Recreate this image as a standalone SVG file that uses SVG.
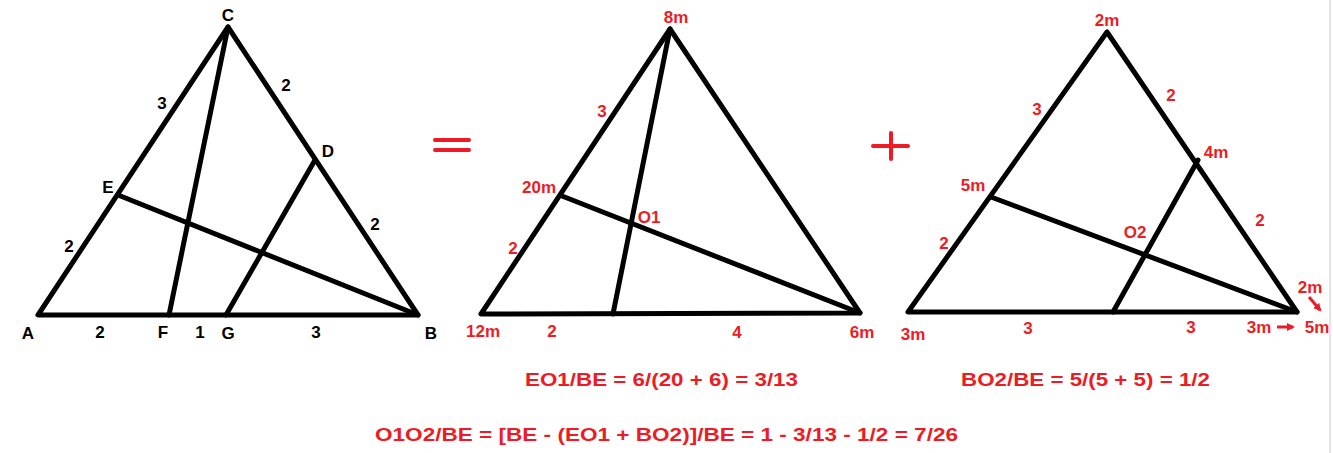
<svg xmlns="http://www.w3.org/2000/svg" width="1333" height="453" viewBox="0 0 1333 453">
<defs>
<style>
.ln{stroke:#000;stroke-width:5;stroke-linecap:round;stroke-linejoin:round;fill:none}
.r{stroke:#ED1C24;stroke-width:4;stroke-linecap:round;fill:none}
.ra{stroke:#ED1C24;stroke-width:3;fill:none}
text{font-family:"Liberation Sans","DejaVu Sans",sans-serif;font-weight:bold;font-size:17px;text-anchor:middle}
.k{fill:#000}
.t{fill:#ED1C24}
.eq{font-size:18px;text-anchor:start}
</style>
<marker id="ah" markerWidth="8" markerHeight="8" refX="6" refY="4" orient="auto" markerUnits="userSpaceOnUse">
<path d="M0,0 L8,4 L0,8 Z" fill="#ED1C24"/>
</marker>
</defs>
<rect width="1333" height="453" fill="#fff"/>
<line x1="1330" y1="0" x2="1330" y2="453" stroke="#c8c8c8" stroke-width="1"/>

<g id="triangle1">
<path class="ln" d="M38,315 L418,315 L228,27 Z"/>
<g id="t1-connectors">
<line class="ln" x1="228" y1="27" x2="169" y2="315"/>
<line class="ln" x1="315" y1="160" x2="226" y2="315"/>
<line class="ln" x1="118" y1="195" x2="418" y2="315"/>
</g>
<text class="k" x="228" y="21">C</text>
<text class="k" x="162" y="109">3</text>
<text class="k" x="286" y="91">2</text>
<text class="k" x="328" y="157">D</text>
<text class="k" x="108" y="193">E</text>
<text class="k" x="69" y="252">2</text>
<text class="k" x="375" y="230">2</text>
<text class="k" x="28" y="339">A</text>
<text class="k" x="100" y="338">2</text>
<text class="k" x="163" y="338">F</text>
<text class="k" x="200" y="338">1</text>
<text class="k" x="228" y="339">G</text>
<text class="k" x="316" y="338">3</text>
<text class="k" x="431" y="339">B</text>
</g>

<g id="equals">
<line class="r" x1="435" y1="140" x2="469" y2="140"/>
<line class="r" x1="435" y1="150" x2="469" y2="150"/>
</g>

<g id="triangle2">
<path class="ln" d="M481,314 L860,313 L670,29 Z"/>
<g id="t2-connectors">
<line class="ln" x1="670" y1="29" x2="613" y2="314"/>
<line class="ln" x1="562" y1="196" x2="860" y2="313"/>
</g>
<text class="t" x="676" y="23">8m</text>
<text class="t" x="602" y="117">3</text>
<text class="t" x="539" y="193">20m</text>
<text class="t" x="649" y="223">O1</text>
<text class="t" x="513" y="254">2</text>
<text class="t" x="483" y="337">12m</text>
<text class="t" x="552" y="337">2</text>
<text class="t" x="737" y="338">4</text>
<text class="t" x="862" y="338">6m</text>
</g>

<g id="plus">
<line class="r" x1="873" y1="146" x2="908" y2="146"/>
<line class="r" x1="891" y1="133" x2="891" y2="159"/>
</g>

<g id="triangle3">
<path class="ln" d="M908,312 L1297,312 L1107,32 Z"/>
<g id="t3-connectors">
<line class="ln" x1="1198" y1="160" x2="1113" y2="312"/>
<line class="ln" x1="991" y1="197" x2="1297" y2="312"/>
<line class="ra" x1="1309" y1="297" x2="1320" y2="310" marker-end="url(#ah)"/>
<line class="ra" x1="1277" y1="327" x2="1293" y2="327" marker-end="url(#ah)"/>
</g>
<text class="t" x="1107" y="26">2m</text>
<text class="t" x="1037" y="115">3</text>
<text class="t" x="1171" y="101">2</text>
<text class="t" x="1216" y="158">4m</text>
<text class="t" x="973" y="191">5m</text>
<text class="t" x="944" y="249">2</text>
<text class="t" x="1135" y="238">O2</text>
<text class="t" x="1260" y="226">2</text>
<text class="t" x="1310" y="293">2m</text>
<text class="t" x="913" y="340">3m</text>
<text class="t" x="1028" y="334">3</text>
<text class="t" x="1191" y="333">3</text>
<text class="t" x="1259" y="333">3m</text>
<text class="t" x="1317" y="333">5m</text>
</g>

<g id="equations">
<text class="t eq" x="525" y="386" textLength="273" lengthAdjust="spacingAndGlyphs">EO1/BE = 6/(20 + 6) = 3/13</text>
<text class="t eq" x="961" y="386" textLength="249" lengthAdjust="spacingAndGlyphs">BO2/BE = 5/(5 + 5) = 1/2</text>
<text class="t eq" x="375" y="441" textLength="583" lengthAdjust="spacingAndGlyphs">O1O2/BE = [BE - (EO1 + BO2)]/BE = 1 - 3/13 - 1/2 = 7/26</text>
</g>
</svg>
